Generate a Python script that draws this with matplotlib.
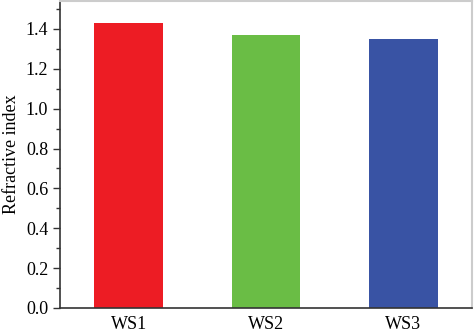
import matplotlib
matplotlib.use("Agg")
import matplotlib.pyplot as plt
from matplotlib.ticker import MultipleLocator

# data
samples = ["WS1", "WS2", "WS3"]
refractive_index = [1.428, 1.370, 1.348]
bar_colors = ["#ED1C24", "#6ABD45", "#3953A4"]

plt.rcParams["font.family"] = "serif"
plt.rcParams["font.serif"] = ["Liberation Serif", "DejaVu Serif"]

fig = plt.figure(figsize=(4.74, 3.34), dpi=100)
ax = fig.add_axes([60 / 474, 26 / 334, 412 / 474, 307 / 334])

ax.bar(range(len(samples)), refractive_index, width=0.5, color=bar_colors)

ax.set_xlim(-0.5, 2.5)
ax.set_ylim(0, 1.54)
ax.set_xticks(range(len(samples)))
ax.set_xticklabels(samples)
ax.yaxis.set_major_locator(MultipleLocator(0.2))
ax.yaxis.set_minor_locator(MultipleLocator(0.1))
ax.yaxis.set_major_formatter(plt.FormatStrFormatter("%.1f"))
ax.set_ylabel("Refractive index", fontsize=13)

ax.tick_params(axis="y", which="major", length=5, width=1, labelsize=13, color="#333333")
ax.tick_params(axis="y", which="minor", length=3, width=1, color="#333333")
ax.tick_params(axis="x", length=0, labelsize=13, pad=6)

for side in ["left", "bottom"]:
    ax.spines[side].set_color("#333333")
    ax.spines[side].set_linewidth(1.2)
for side in ["top", "right"]:
    ax.spines[side].set_color("#cccccc")
    ax.spines[side].set_linewidth(1.5)

fig.savefig("out.png", dpi=100)
